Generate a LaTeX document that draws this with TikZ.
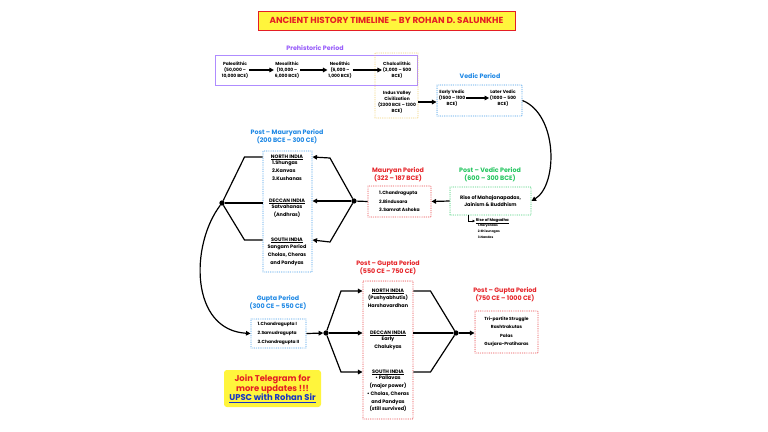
\documentclass[tikz,border=0pt]{standalone}
\usepackage{fontspec}
\setmainfont{Poppins}
\usetikzlibrary{arrows.meta, positioning, calc}
\definecolor{titleRed}{RGB}{228,30,36}
\definecolor{titleYellow}{RGB}{255,245,60}
\definecolor{prePurple}{RGB}{150,90,250}
\definecolor{preFrame}{RGB}{175,140,255}
\definecolor{goldFrame}{RGB}{240,200,90}
\definecolor{vedicBlue}{RGB}{30,136,229}
\definecolor{mauryaRed}{RGB}{230,35,40}
\definecolor{vedicGreen}{RGB}{34,197,94}
\definecolor{teleBlue}{RGB}{20,50,200}

\begin{document}
\begin{tikzpicture}[
  x=0.05cm, y=-0.05cm,
  banner/.style={rectangle, draw=titleRed, line width=1.3pt, fill=titleYellow, text=titleRed, minimum width=12.85cm, minimum height=0.95cm, font=\fontsize{12.5}{14}\selectfont\bfseries},
  period/.style={align=center, font=\fontsize{9}{11.5}\selectfont\bfseries},
  frame/.style={rectangle, line width=1.4pt, line cap=round, dash pattern=on 0pt off 2.6pt},
  era/.style={align=center, inner sep=1pt, font=\fontsize{6.3}{8.5}\selectfont\bfseries},
  region/.style={align=center, inner sep=1pt, font=\fontsize{7}{9}\selectfont\bfseries},
  items/.style={align=left, inner sep=1pt, font=\fontsize{7}{11.5}\selectfont\bfseries},
  tiny/.style={align=left, inner sep=1pt, font=\fontsize{4.5}{8.5}\selectfont\bfseries},
  arrow/.style={line width=1.7pt, -{Triangle[length=6.5pt,width=6.5pt]}},
  link/.style={line width=1.7pt},
  joint/.style={circle, fill=black, inner sep=0pt, minimum size=7.5pt}
]
\fill[white] (0,0) rectangle (768,431);
\useasboundingbox (0,0) rectangle (768,431);

% Title
\node (title) [banner] at (386.5,20.5) {ANCIENT HISTORY TIMELINE -- BY ROHAN D. SALUNKHE};

% Prehistoric period
\node (preLbl) [period, text=prePurple] at (315,48) {Prehistoric Period};
\node (pre) [rectangle, draw=preFrame, line width=1pt, minimum width=10.1cm, minimum height=1.5cm] at (316,70) {};
\node (gold) [frame, draw=goldFrame, minimum width=2.15cm, minimum height=3.25cm] at (396.5,85.5) {};
\node (paleo) [era] at (235,70) {Paleolithic\\(50,000 --\\10,000 BCE)};
\node (meso) [era] at (287,70) {Mesolithic\\(10,000 --\\6,000 BCE)};
\node (neo) [era] at (340,70) {Neolithic\\(6,000 --\\1,000 BCE)};
\node (chalco) [era] at (397,70) {Chalcolithic\\(3,000 -- 500\\BCE)};
\node (indus) [era] at (397,102) {Indus Valley\\Civilization\\(2300 BCE -- 1300\\BCE)};

% Vedic period
\node (vedLbl) [period, text=vedicBlue] at (480,76) {Vedic Period};
\node (ved) [frame, draw=vedicBlue, minimum width=4.25cm, minimum height=1.55cm] at (479.5,100.5) {};
\node (early) [era] at (452,98) {Early Vedic\\(1500 -- 1100\\BCE)};
\node (later) [era] at (503,98) {Later Vedic\\(1000 -- 500\\BCE)};

% Post - Vedic period
\node (pvLbl) [period, text=vedicGreen] at (490,175) {Post -- Vedic Period\\(600 -- 300 BCE)};
\node (pv) [frame, draw=vedicGreen, minimum width=4.05cm, minimum height=1.4cm, align=center, font=\fontsize{7}{11}\selectfont\bfseries] at (490.5,201) {Rise of Mahajanapadas,\\Jainism \& Buddhism};
\node (mag) [tiny, font=\fontsize{5.5}{8}\selectfont\bfseries, anchor=west] at (475,221) {\underline{Rise of Magadha}};
\node (magList) [tiny, anchor=north west] at (477,223) {1.Haryankas\\2.Shisunagas\\3.Nandas};

% Mauryan period
\node (mLbl) [period, text=mauryaRed] at (398,175) {Mauryan Period\\(322 -- 187 BCE)};
\node (m) [frame, draw=mauryaRed, minimum width=3.15cm, minimum height=1.55cm, items, font=\fontsize{6.5}{12}\selectfont\bfseries] at (399.5,201.5) {1.Chandragupta\\2.Bindusara\\3.Samrat Ashoka};

% Post - Mauryan period
\node (pmLbl) [period, text=vedicBlue] at (287,137) {Post -- Mauryan Period\\(200 BCE -- 300 CE)};
\node (pm) [frame, draw=vedicBlue, minimum width=2.45cm, minimum height=6.05cm] at (287.5,211.5) {};
\node (pmN) [region] at (287,157) {\underline{NORTH INDIA}};
\node (pmNList) [items, below=0pt of pmN] {1.Shungas\\2.Kanvas\\3.Kushanas};
\node (pmD) [region] at (287,201) {\underline{DECCAN INDIA}};
\node (pmDList) [region, font=\fontsize{7}{11.5}\selectfont\bfseries, below=0pt of pmD] {Satvahanas\\(Andhras)};
\node (pmS) [region] at (287,240) {\underline{SOUTH INDIA}};
\node (pmSList) [region, font=\fontsize{7}{11.5}\selectfont\bfseries, below=0pt of pmS] {Sangam Period\\Cholas, Cheras\\and Pandyas};
\node (dR) [joint] at (354,201) {};
\node (dL) [joint] at (222,203) {};

% Gupta period
\node (gLbl) [period, text=vedicBlue] at (278,303) {Gupta Period\\(300 CE -- 550 CE)};
\node (g) [frame, draw=vedicBlue, minimum width=2.75cm, minimum height=1.45cm, items, font=\fontsize{6.3}{13}\selectfont\bfseries] at (278.5,333.5) {1.Chandragupta I\\2.Samudragupta\\3.Chandragupta II};
\node (dG) [joint] at (326,333) {};

% Post - Gupta period (550 - 750)
\node (pgLbl) [period, text=mauryaRed] at (388,268) {Post -- Gupta Period\\(550 CE -- 750 CE)};
\node (pg) [frame, draw=mauryaRed, minimum width=2.5cm, minimum height=6.9cm] at (388,350) {};
\node (pgN) [region] at (388,291) {\underline{NORTH INDIA}};
\node (pgNList) [region, font=\fontsize{7}{11}\selectfont\bfseries, below=0pt of pgN] {(Pushyabhutis)\\Harshavardhan};
\node (pgD) [region] at (388,333) {\underline{DECCAN INDIA}};
\node (pgDList) [region, font=\fontsize{7}{11}\selectfont\bfseries, below=0pt of pgD] {Early\\Chalukyas};
\node (pgS) [region] at (388,372) {\underline{SOUTH INDIA}};
\node (pgSList) [region, font=\fontsize{7}{11}\selectfont\bfseries, below=0pt of pgS] {• Pallavas\\(major power)\\• Cholas, Cheras\\and Pandyas\\(still survived)};
\node (dP) [joint] at (456,333) {};

% Post - Gupta period (750 - 1000)
\node (lpLbl) [period, text=mauryaRed] at (505,295) {Post -- Gupta Period\\(750 CE -- 1000 CE)};
\node (lp) [frame, draw=mauryaRed, minimum width=3.15cm, minimum height=2.1cm, align=center, font=\fontsize{6.3}{12}\selectfont\bfseries] at (506.5,332) {Tri-partite Struggle\\Rashtrakutas\\Palas\\Gurjara-Pratiharas};

% Telegram note
\node (tele) [rectangle, rounded corners=4pt, fill=titleYellow, minimum width=4.85cm, minimum height=1.85cm, align=center, font=\fontsize{12}{14}\selectfont\bfseries] at (272.5,388.5) {\textcolor{titleRed}{Join Telegram for}\\\textcolor{titleRed}{more updates !!!}\\\textcolor{teleBlue}{\underline{UPSC with Rohan Sir}}};

% Arrows
\draw [arrow] (paleo) -- (meso);
\draw [arrow] (meso) -- (neo);
\draw [arrow] (neo) -- (chalco);
\draw [arrow] (gold.east |- indus) -- (ved.west |- indus);
\draw [arrow] (early) -- (later);
\draw [arrow] (ved.east) .. controls (558,115) and (558,185) .. (pv.east);
\draw [arrow] (pv.west) -- (m.east);
\draw [arrow, line width=1pt, -{Triangle[length=3.5pt,width=3.5pt]}] ($(pv.south west)+(19,0)$) |- (mag.west);
\draw [link] (m.west) -- (dR);
\draw [arrow] (dR) -- ++(-24,-43) -- (pm.east |- pmN);
\draw [arrow] (dR) -- (pm.east |- dR);
\draw [arrow] (dR) -- ++(-24,41) -- (pm.east |- pmS);
\draw [link] (pm.west |- pmN) -- ++(-18,0) -- (dL);
\draw [link] (pm.west |- dL) -- (dL);
\draw [link] (pm.west |- pmS) -- ++(-18,0) -- (dL);
\draw [arrow] (dL) .. controls (190,245) and (190,330) .. (g.west);
\draw [arrow] (g.east) -- (dG);
\draw [arrow] (dG) -- ++(15,-42) -- (pg.west |- pgN);
\draw [arrow] (dG) -- (pg.west |- dG);
\draw [arrow] (dG) -- ++(15,39) -- (pg.west |- pgS);
\draw [link] (pg.east |- pgN) -- ++(17,0) -- (dP);
\draw [link] (pg.east |- dP) -- (dP);
\draw [link] (pg.east |- pgS) -- ++(17,0) -- (dP);
\draw [arrow] (dP) -- (lp.west |- dP);

\end{tikzpicture}
\end{document}
